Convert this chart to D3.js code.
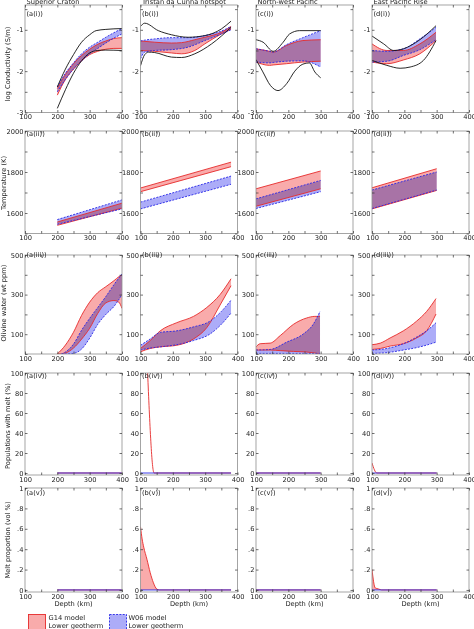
<!DOCTYPE html>
<html>
<head>
<meta charset="utf-8">
<script src="https://cdn.jsdelivr.net/npm/d3@7"></script>
<style>
  body { margin: 0; background: #fff; }
  svg { display: block; font-family: "DejaVu Sans", sans-serif; }
</style>
</head>
<body>
<svg id="chart" width="474" height="629"></svg>
<script>
// Columns (regions) and rows (quantities)
const regions = ["Superior Craton", "Tristan da Cunha hotspot", "North-west Pacific", "East Pacific Rise"];
const regionLetters = ["a", "b", "c", "d"];
const rowNumerals = ["i", "ii", "iii", "iv", "v"];
const rowTitles = ["log Conductivity (S/m)", "Temperature (K)", "Olivine water (wt ppm)",
  "Populations with melt (%)", "Melt proportion (vol %)"];
const legendLabels = [["G14 model", "Lower geotherm"], ["W06 model", "Lower geotherm"]];

const depthTicks = [100, 150, 200, 250, 300, 350, 400];
const depthTickLabels = [100, 200, 300, 400];
const condTicks = [-3, -2.5, -2, -1.5, -1, -0.5];
const condTickLabels = [-3, -2, -1];
const tempTicks = [1500, 1600, 1700, 1800, 1900, 2000];
const tempTickLabels = [1600, 1800, 2000];
const waterTicks = [0, 100, 200, 300, 400, 500];
const waterTickLabels = [100, 300, 500];
const popTicks = [0, 20, 40, 60, 80, 100];
const popTickLabels = [0, 20, 40, 60, 80, 100];
const meltTicks = [0, 0.2, 0.4, 0.6, 0.8, 1];
const meltTickLabels = [0, 0.2, 0.4, 0.6, 0.8, 1];

// [depth km, low, high]
const condA_G14 = [[200,-2.58,-2.42],[225,-2.2,-2.08],[250,-1.95,-1.82],[275,-1.75,-1.62],[300,-1.6,-1.47],[325,-1.52,-1.35],[350,-1.47,-1.27],[375,-1.45,-1.21],[400,-1.45,-1.19]];
const condA_W06 = [[200,-2.5,-2.38],[225,-2.2,-2.05],[250,-1.95,-1.8],[275,-1.75,-1.58],[300,-1.58,-1.42],[325,-1.45,-1.3],[350,-1.32,-1.18],[375,-1.2,-1.07],[400,-1.1,-0.97]];
const condB_G14 = [[100,-1.5,-1.27],[144,-1.52,-1.3],[196,-1.56,-1.32],[227,-1.58,-1.31],[268,-1.5,-1.24],[299,-1.34,-1.18],[350,-1.1,-1.06],[380,-0.98,-0.92]];
const condB_W06 = [[100,-1.7,-1.27],[113,-1.54,-1.25],[144,-1.5,-1.22],[196,-1.48,-1.19],[247,-1.42,-1.19],[299,-1.26,-1.14],[350,-1.1,-1.03],[380,-1.0,-0.92]];
const condC_G14 = [[100,-1.78,-1.46],[142,-1.86,-1.52],[153,-1.85,-1.54],[194,-1.82,-1.38],[245,-1.78,-1.26],[300,-1.76,-1.24]];
const condC_W06 = [[100,-1.78,-1.46],[142,-1.8,-1.52],[153,-1.79,-1.54],[194,-1.76,-1.36],[245,-1.75,-1.19],[300,-1.9,-1.02]];
const condD_G14 = [[100,-1.78,-1.34],[146,-1.82,-1.5],[197,-1.73,-1.5],[248,-1.58,-1.34],[298,-1.26,-1.06]];
const condD_W06 = [[100,-1.78,-1.5],[146,-1.76,-1.52],[197,-1.62,-1.46],[248,-1.48,-1.22],[298,-1.24,-0.94]];

// black envelope lines on conductivity, [depth, value]
const condA_upper = [[200,-2.38],[225,-1.95],[250,-1.6],[275,-1.3],[300,-1.12],[320,-1.02],[350,-0.99],[400,-0.97]];
const condA_lower = [[200,-2.9],[225,-2.45],[250,-2.05],[275,-1.75],[300,-1.56],[325,-1.5],[350,-1.49],[400,-1.5]];
const condB_upper = [[100,-0.92],[113,-0.84],[155,-1.02],[196,-1.12],[247,-1.18],[299,-1.14],[350,-0.98],[380,-0.79]];
const condB_lower = [[100,-1.87],[113,-1.6],[125,-1.54],[144,-1.55],[196,-1.66],[227,-1.67],[268,-1.58],[320,-1.34],[380,-0.94]];
const condC_upper = [[100,-1.24],[122,-1.3],[153,-1.52],[184,-1.3],[204,-1.1],[235,-1.02],[300,-1.02]];
const condC_lower = [[100,-1.72],[120,-2.0],[145,-2.35],[168,-2.47],[195,-2.3],[220,-2.0],[245,-1.83],[265,-1.8],[282,-2.02],[300,-2.16]];
const condD_upper = [[100,-1.15],[136,-1.34],[167,-1.5],[197,-1.46],[248,-1.24],[298,-0.9]];
const condD_lower = [[100,-1.74],[146,-1.86],[187,-1.93],[218,-1.9],[259,-1.74],[298,-1.26]];

const tempA_G14 = [[200,1540,1556],[400,1624,1648]];
const tempA_W06 = [[200,1545,1568],[400,1620,1664]];
const tempB_G14 = [[100,1704,1722],[380,1826,1848]];
const tempB_W06 = [[100,1620,1653],[380,1740,1780]];
const tempC_G14 = [[100,1633,1718],[300,1718,1805]];
const tempC_W06 = [[100,1622,1669],[300,1704,1759]];
const tempD_G14 = [[100,1620,1723],[300,1710,1816]];
const tempD_W06 = [[100,1622,1712],[300,1712,1800]];

const waterA_G14 = [[200,0,0],[225,5,45],[250,30,110],[275,75,195],[300,130,262],[325,205,310],[350,258,340],[375,270,370],[390,262,390],[400,230,400]];
const waterA_W06 = [[213,0,0],[225,0,10],[250,3,50],[275,25,120],[300,80,180],[325,150,235],[350,200,290],[375,240,350],[400,300,405]];
const waterB_G14 = [[100,11,28],[130,28,68],[161,36,117],[212,44,158],[264,76,190],[305,133,235],[346,247,300],[380,345,380]];
const waterB_W06 = [[100,20,44],[130,30,76],[161,36,109],[212,47,117],[264,68,137],[315,101,166],[350,150,215],[380,207,272]];
const waterC_G14 = [[100,20,36],[113,20,52],[144,20,55],[175,17,93],[216,13,150],[257,10,182],[282,5,190],[298,0,190]];
const waterC_W06 = [[100,3,20],[144,3,23],[195,3,60],[246,3,101],[277,3,150],[298,3,215]];
const waterD_G14 = [[100,23,47],[126,28,55],[156,40,81],[197,52,117],[238,81,166],[269,117,215],[298,202,280]];
const waterD_W06 = [[100,3,20],[146,7,28],[197,20,52],[248,36,95],[269,45,117],[298,60,158]];

// [depth, value]
const popA_G14 = [[200,0],[400,0]];
const popA_W06 = [[200,0],[400,0]];
const popB_G14 = [[122,100],[142,0],[380,0]];
const popB_W06 = [[100,0],[380,0]];
const popC_G14 = [[100,0],[300,0]];
const popC_W06 = [[100,0],[300,0]];
const popD_G14 = [[100,10],[115,0],[300,0]];
const popD_W06 = [[100,0],[300,0]];

const meltA_G14 = [[200,0],[400,0]];
const meltA_W06 = [[200,0],[400,0]];
const meltB_G14 = [[100,0.62],[105,0.5],[110,0.42],[120,0.3],[130,0.17],[140,0.07],[150,0.01],[158,0],[380,0]];
const meltB_W06 = [[100,0],[380,0]];
const meltC_G14 = [[100,0],[300,0]];
const meltC_W06 = [[100,0],[300,0]];
const meltD_G14 = [[100,0.2],[110,0.02],[120,0.01],[130,0],[300,0]];
const meltD_W06 = [[100,0],[300,0]];

// layout
const colLeft = [25, 140.5, 256, 372];
const panelW = 97;
const rowTop = [5, 131, 255, 373, 488];
const rowBottom = [112.5, 233.5, 354, 475, 592];
const panelLabelDy = [11, 5.3, 2, 5, 6.6];
const rowTitleX = [9.5, 5.5, 5.8, 9.5, 9.5];
const rowTitleY = [64, 183, 303, 426, 540];
const fontSize = 6.7;

const redLine = "#e62a2a", redFill = "#f9abab";
const blueLine = "#2626e6", blueFill = "#acacf8";

const fmtPlain = (v) => String(v);
const fmtMelt = (v) => (v === 0 || v === 1) ? String(v) : String(v).replace("0.", ".");

const rows = [
  { kind: "band", domain: [-3, -0.4], ticks: condTicks, labels: condTickLabels, fmt: fmtPlain,
    g14: [condA_G14, condB_G14, condC_G14, condD_G14], w06: [condA_W06, condB_W06, condC_W06, condD_W06],
    black: [[condA_upper, condA_lower], [condB_upper, condB_lower], [condC_upper, condC_lower], [condD_upper, condD_lower]] },
  { kind: "band", domain: [1500, 2000], ticks: tempTicks, labels: tempTickLabels, fmt: fmtPlain,
    g14: [tempA_G14, tempB_G14, tempC_G14, tempD_G14], w06: [tempA_W06, tempB_W06, tempC_W06, tempD_W06] },
  { kind: "band", domain: [0, 500], ticks: waterTicks, labels: waterTickLabels, fmt: fmtPlain,
    g14: [waterA_G14, waterB_G14, waterC_G14, waterD_G14], w06: [waterA_W06, waterB_W06, waterC_W06, waterD_W06] },
  { kind: "line", domain: [-2, 100], ticks: popTicks, labels: popTickLabels, fmt: fmtPlain,
    g14: [popA_G14, popB_G14, popC_G14, popD_G14], w06: [popA_W06, popB_W06, popC_W06, popD_W06] },
  { kind: "fill", domain: [-0.02, 1], ticks: meltTicks, labels: meltTickLabels, fmt: fmtMelt,
    g14: [meltA_G14, meltB_G14, meltC_G14, meltD_G14], w06: [meltA_W06, meltB_W06, meltC_W06, meltD_W06] },
];

const svg = d3.select("#chart");
const defs = svg.append("defs");

function styleAxis(g) {
  g.select(".domain").remove();
  g.selectAll(".tick line").attr("stroke", "#333").attr("stroke-width", 0.7);
  g.selectAll(".tick text").attr("font-size", fontSize).attr("fill", "#222").attr("font-family", "DejaVu Sans");
}

rows.forEach((row, r) => {
  const y = d3.scaleLinear().domain(row.domain).range([rowBottom[r], rowTop[r]]);

  regions.forEach((region, c) => {
    const x = d3.scaleLinear().domain([100, 400]).range([colLeft[c], colLeft[c] + panelW]);
    const clipId = `clip-${r}-${c}`;
    defs.append("clipPath").attr("id", clipId).append("rect")
      .attr("x", colLeft[c]).attr("y", rowTop[r])
      .attr("width", panelW).attr("height", rowBottom[r] - rowTop[r]);

    const g = svg.append("g");
    const plot = g.append("g").attr("clip-path", `url(#${clipId})`);

    const curve = d3.curveMonotoneX;
    const band = d3.area().curve(curve).x((d) => x(d[0])).y0((d) => y(d[1])).y1((d) => y(d[2]));
    const lo = d3.line().curve(curve).x((d) => x(d[0])).y((d) => y(d[1]));
    const hi = d3.line().curve(curve).x((d) => x(d[0])).y((d) => y(d[2]));
    const line = d3.line().curve(curve).x((d) => x(d[0])).y((d) => y(d[1]));

    if (row.kind === "band") {
      // fills
      plot.append("path").attr("d", band(row.w06[c])).attr("fill", blueFill)
        .style("mix-blend-mode", "multiply");
      plot.append("path").attr("d", band(row.g14[c])).attr("fill", redFill)
        .style("mix-blend-mode", "multiply");
      // edges
      [lo, hi].forEach((fn) => {
        plot.append("path").attr("d", fn(row.g14[c])).attr("fill", "none")
          .attr("stroke", redLine).attr("stroke-width", 0.9);
      });
      [lo, hi].forEach((fn) => {
        plot.append("path").attr("d", fn(row.w06[c])).attr("fill", "none")
          .attr("stroke", blueLine).attr("stroke-width", 0.9).attr("stroke-dasharray", "2,1.3");
      });
      if (row.black) {
        row.black[c].forEach((series) => {
          plot.append("path").attr("d", line(series)).attr("fill", "none")
            .attr("stroke", "#111").attr("stroke-width", 0.9);
        });
      }
    } else {
      if (row.kind === "fill") {
        const under = d3.area().curve(curve).x((d) => x(d[0])).y0(y(0)).y1((d) => y(d[1]));
        plot.append("path").attr("d", under(row.g14[c])).attr("fill", redFill);
      }
      plot.append("path").attr("d", line(row.g14[c])).attr("fill", "none")
        .attr("stroke", redLine).attr("stroke-width", 0.9);
      plot.append("path").attr("d", line(row.w06[c])).attr("fill", "none")
        .attr("stroke", blueLine).attr("stroke-width", 0.9);
    }

    // frame
    g.append("rect")
      .attr("x", colLeft[c]).attr("y", rowTop[r])
      .attr("width", panelW).attr("height", rowBottom[r] - rowTop[r])
      .attr("fill", "none").attr("stroke", "#8e8e8e").attr("stroke-width", 0.8);

    // axes, ticks point inward on every side
    g.append("g").attr("transform", `translate(${colLeft[c]},0)`)
      .call(d3.axisLeft(y).tickValues(row.ticks).tickSize(-2.5).tickPadding(1.5)
        .tickFormat((v) => row.labels.includes(v) ? row.fmt(v) : ""))
      .call(styleAxis);
    g.append("g").attr("transform", `translate(${colLeft[c] + panelW},0)`)
      .call(d3.axisRight(y).tickValues(row.ticks).tickSize(-2.5).tickFormat(""))
      .call(styleAxis);
    g.append("g").attr("transform", `translate(0,${rowBottom[r]})`)
      .call(d3.axisBottom(x).tickValues(depthTicks).tickSize(-2.5).tickPadding(2)
        .tickFormat((v) => depthTickLabels.includes(v) ? String(v) : ""))
      .call(styleAxis);
    g.append("g").attr("transform", `translate(0,${rowTop[r]})`)
      .call(d3.axisTop(x).tickValues(depthTicks).tickSize(-2.5).tickFormat(""))
      .call(styleAxis);

    // panel label
    g.append("text")
      .attr("x", colLeft[c] + 1.5).attr("y", rowTop[r] + panelLabelDy[r])
      .attr("font-size", fontSize).attr("fill", "#222")
      .text(`(${regionLetters[c]}(${rowNumerals[r]}))`);

    if (r === 0) {
      svg.append("text")
        .attr("x", colLeft[c] + 1.5).attr("y", 3.5)
        .attr("font-size", fontSize).attr("fill", "#222")
        .text(region);
    }
    if (r === rows.length - 1) {
      svg.append("text")
        .attr("x", colLeft[c] + panelW / 2).attr("y", rowBottom[r] + 13.5)
        .attr("text-anchor", "middle")
        .attr("font-size", fontSize).attr("fill", "#222")
        .text("Depth (km)");
    }
  });

  svg.append("text")
    .attr("transform", `translate(${rowTitleX[r]},${rowTitleY[r]}) rotate(-90)`)
    .attr("text-anchor", "middle")
    .attr("font-size", fontSize).attr("fill", "#222")
    .text(rowTitles[r]);
});

// legend
const legend = svg.append("g");
const swatches = [
  { x: 28.5, fill: redFill, stroke: redLine, dash: null, textX: 48.5 },
  { x: 109.5, fill: blueFill, stroke: blueLine, dash: "2,1.3", textX: 128.5 },
];
swatches.forEach((s, i) => {
  legend.append("rect")
    .attr("x", s.x).attr("y", 614.5).attr("width", 17).attr("height", 20)
    .attr("fill", s.fill).attr("stroke", s.stroke).attr("stroke-width", 0.9)
    .attr("stroke-dasharray", s.dash);
  legendLabels[i].forEach((t, j) => {
    legend.append("text")
      .attr("x", s.textX).attr("y", 619.8 + j * 8)
      .attr("font-size", fontSize).attr("fill", "#222")
      .text(t);
  });
});
</script>
</body>
</html>
